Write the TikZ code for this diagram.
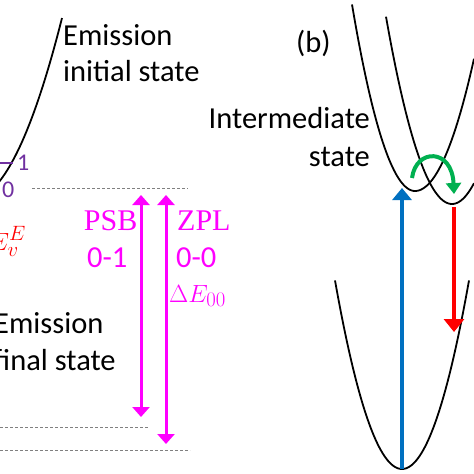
\documentclass[tikz,border=0pt]{standalone}
\usepackage{fontspec}
\setmainfont{Carlito}
\newfontfamily\serifpsb{Liberation Serif}
\usetikzlibrary{arrows.meta}
\definecolor{mag}{HTML}{FF00FF}
\definecolor{purp}{HTML}{7030A0}
\definecolor{myred}{HTML}{FF0000}
\definecolor{myblue}{HTML}{0070C0}
\definecolor{mygreen}{HTML}{00B050}
\tikzset{
  txt/.style={inner sep=0pt, font=\fontsize{30.5}{36}\selectfont},
  sertxt/.style={inner sep=0pt, text=mag, font=\fontsize{30}{36}\serifpsb},
  mathtxt/.style={inner sep=0pt, font=\fontsize{30}{36}\selectfont},
  lvltxt/.style={inner sep=0pt, text=purp, font=\fontsize{24}{28}\selectfont},
  curve/.style={line width=1.8pt, black},
  guide/.style={gray, line width=0.8pt, dash pattern=on 3pt off 2pt},
  magarrow/.style={mag, line width=3pt, {Triangle[width=17pt,length=10pt]}-{Triangle[width=17pt,length=10pt]}},
}
\begin{document}
\begin{tikzpicture}[x=1pt,y=-1pt]
\useasboundingbox (0,0) rectangle (474,474);
% (a) curves
\draw[curve] plot[domain=-30:62, samples=60] (\x, {200-0.0215*(\x+30)^2});
\draw[purp, line width=2.5pt] (0,163) -- (13,163);
\node[lvltxt, anchor=base west] (l1) at (17,170) {1};
\node[lvltxt, anchor=base west] (l0) at (2,197) {0};
% guides
\coordinate (g1a) at (32,188); \coordinate (g1b) at (188,188);
\coordinate (g2a) at (0,427); \coordinate (g2b) at (148,427);
\coordinate (g3a) at (0,450); \coordinate (g3b) at (190,450);
\draw[guide] (g1a) -- (g1b);
\draw[guide] (g2a) -- (g2b);
\draw[guide] (g3a) -- (g3b);
% magenta arrows
\coordinate (psbT) at (141,195); \coordinate (psbB) at (141,417);
\coordinate (zplT) at (166,195); \coordinate (zplB) at (166,444);
\draw[magarrow] (psbT) -- (psbB);
\draw[magarrow] (zplT) -- (zplB);
% texts (a)
\node[txt, anchor=base west] (ei1) at (63,45) {Emission};
\node[txt, anchor=base west] (ei2) at (63,81) {initial state};
\node[txt, anchor=base west] (ef1) at (-6,333) {Emission};
\node[txt, anchor=base west] (ef2) at (-6,370) {final state};
\node[sertxt, anchor=base east] (psb) at (137.5,230) {PSB};
\node[sertxt, anchor=base west] (zpl) at (177,230) {ZPL};
\node[txt, text=mag, anchor=base east] (n01) at (127.5,267) {0-1};
\node[txt, text=mag, anchor=base west] (n00) at (176,267) {0-0};
\node[mathtxt, text=mag, anchor=base west] (de) at (169,302) {$\Delta E_{00}$};
\node[mathtxt, text=myred, anchor=base east] (ev) at (26,250) {$E_v^E$};
% (b)
\node[txt, anchor=base west] (b) at (296,52) {(b)};
\node[txt, anchor=base east] (im1) at (370,128) {Intermediate};
\node[txt, anchor=base east] (im2) at (370,166) {state};
\draw[curve] plot[domain=352:415, samples=40] (\x, {191-0.047*(\x-415)^2})
  -- plot[domain=415:474, samples=40] (\x, {191-0.038*(\x-415)^2});
\draw[curve] plot[domain=386:474, samples=60] (\x, {204-0.043*(\x-452)^2});
\draw[curve] plot[domain=335:469, samples=80] (\x, {469-0.042*(\x-402)^2});
\coordinate (blB) at (402,469); \coordinate (blT) at (402,188);
\draw[myblue, line width=3.5pt, -{Triangle[width=19pt,length=12pt]}] (blB) -- (blT);
\coordinate (rdT) at (454,207); \coordinate (rdB) at (454,332);
\draw[myred, line width=3.5pt, -{Triangle[width=20pt,length=13pt]}] (rdT) -- (rdB);
\coordinate (grA) at (412,178); \coordinate (grB) at (454,194);
\draw[mygreen, line width=4pt, -{Triangle[width=15pt,length=11pt]}] (grA) .. controls (416,148) and (452,148) .. (grB);
\end{tikzpicture}
\end{document}
